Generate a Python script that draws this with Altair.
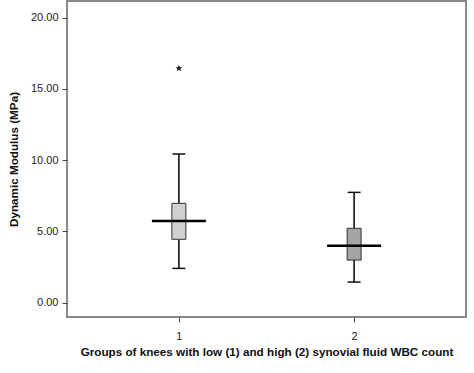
import altair as alt
import pandas as pd

# Box-plot summary per group (MPa)
groups = [1, 2]
whisker_low = [2.41, 1.45]
q1 = [4.45, 2.99]
median = [5.73, 4.00]
q3 = [6.97, 5.22]
whisker_high = [10.43, 7.74]
box_fill = ["#d0d0d0", "#a4a4a4"]

# Extreme values
outlier_group = [1]
outlier_value = [16.44]

stats = pd.DataFrame({
    "group": groups, "lo": whisker_low, "q1": q1, "med": median,
    "q3": q3, "hi": whisker_high, "fill": box_fill,
})
outliers = pd.DataFrame({"group": outlier_group, "value": outlier_value})

FONT = "Liberation Sans"
# five-pointed star symbol (unit path, scaled by the mark size)
STAR = ("M0,-1L0.2245,-0.309L0.951,-0.309L0.363,0.118L0.588,0.809L0,0.382"
        "L-0.588,0.809L-0.363,0.118L-0.951,-0.309L-0.2245,-0.309Z")

x_scale = alt.Scale(domain=[0.39, 2.61], nice=False, zero=False)
x = alt.X("group:Q", scale=x_scale,
          axis=alt.Axis(orient="bottom", values=[1, 2], format="d",
                        title="Groups of knees with low (1) and high (2) synovial fluid WBC count",
                        titleFontSize=11.7, titleFontWeight="bold", titlePadding=5,
                        labelFontSize=11, labelPadding=8, tickSize=5, domain=False,
                        grid=False))
y_scale = alt.Scale(domain=[-1.0, 21.16], nice=False, zero=False)
y_axis = alt.Axis(orient="left", values=[0, 5, 10, 15, 20], format=".2f",
                  title="Dynamic Modulus (MPa)", titleFontSize=11.7,
                  titleFontWeight="bold", titlePadding=11,
                  labelFontSize=11, labelPadding=4, tickSize=5,
                  domain=False, grid=False)


def yq(field):
    return alt.Y(f"{field}:Q", scale=y_scale, axis=y_axis)


base = alt.Chart(stats)

lower_whisker = base.mark_rule(color="#111", strokeWidth=1.6).encode(
    x=x, y=yq("lo"), y2="q1:Q")
upper_whisker = base.mark_rule(color="#111", strokeWidth=1.6).encode(
    x=x, y=yq("q3"), y2="hi:Q")

caps_low = base.mark_tick(orient="horizontal", size=13, thickness=1.5,
                          color="#111", opacity=1).encode(x=x, y=yq("lo"))
caps_high = base.mark_tick(orient="horizontal", size=13, thickness=1.5,
                           color="#111", opacity=1).encode(x=x, y=yq("hi"))

boxes = base.mark_bar(size=14, stroke="#333", strokeWidth=1).encode(
    x=x, y=yq("q1"), y2="q3:Q",
    fill=alt.Fill("fill:N", scale=None),
)

medians = base.mark_tick(orient="horizontal", size=54, thickness=2.6,
                         color="#000", opacity=1).encode(x=x, y=yq("med"))

stars = alt.Chart(outliers).mark_point(shape=STAR, filled=True, size=55,
                                       color="#111", opacity=1).encode(
    x=x, y=yq("value"))

chart = alt.layer(lower_whisker, upper_whisker, caps_low, caps_high, boxes,
                  medians, stars).properties(
    width=399, height=316,
    padding={"left": 67, "top": 1, "right": 8, "bottom": 56},
    autosize="none",
    background="white",
).configure_view(
    stroke="#888", strokeWidth=2,
).configure_axis(
    labelFont=FONT, titleFont=FONT, labelColor="#222", titleColor="#111",
    tickColor="#444",
)

chart.save("out.html", embed_options={"renderer": "svg", "actions": False})
